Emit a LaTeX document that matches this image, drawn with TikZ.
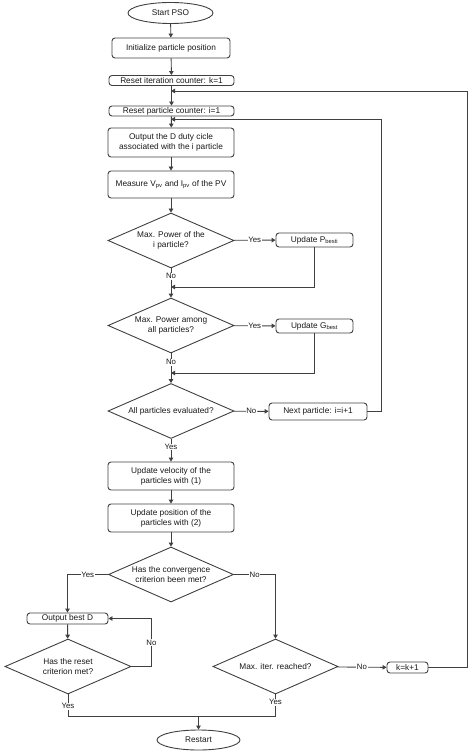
\documentclass[tikz,border=0pt]{standalone}
\usepackage{fontspec}
\setmainfont{Liberation Sans}
\usetikzlibrary{shapes.geometric,arrows.meta}
\begin{document}
\begin{tikzpicture}[x=1pt,y=-1pt,
  every node/.style={font=\fontsize{8.3}{10}\selectfont, text=black!90},
  box/.style={draw=black!75, line width=0.9pt, rounded corners=3pt, align=center, inner sep=1pt},
  term/.style={draw=black!75, line width=0.9pt, ellipse, inner sep=0pt},
  dec/.style={draw=black!75, line width=0.9pt, diamond, aspect=2.3, inner sep=-1.5pt, align=center, minimum width=126pt, minimum height=55pt},
  conn/.style={draw=black!75, line width=0.9pt, -{Triangle[length=4pt,width=4.5pt]}},
  plain/.style={draw=black!75, line width=0.9pt},
  lab/.style={fill=white, inner sep=0.6pt, font=\fontsize{7.8}{9}\selectfont}
]
\useasboundingbox (0,0) rectangle (474,754);

\node[term, minimum width=85pt, minimum height=21pt] (start) at (170.5,13) {Start PSO};
\node[box, minimum width=118pt, minimum height=20pt] (init) at (171,48) {Initialize particle position};
\node[box, minimum width=125pt, minimum height=10pt] (resk) at (171.5,80.5) {Reset iteration counter: k=1};
\node[box, minimum width=125pt, minimum height=10pt] (resi) at (171.5,111) {Reset particle counter: i=1};
\node[box, minimum width=126pt, minimum height=29pt] (outd) at (171,142.5) {Output the D duty cicle\\associated with the i particle};
\node[box, minimum width=126pt, minimum height=27pt] (meas) at (171,184.5) {Measure V\textsubscript{pv} and I\textsubscript{pv} of the PV};
\node[dec] (d1) at (171,240.5) {Max. Power of the\\i particle?};
\node[box, minimum width=77pt, minimum height=14pt] (pb) at (314.5,240) {Update P\textsubscript{besti}};
\node[dec] (d2) at (171,325.5) {Max. Power among\\all particles?};
\node[box, minimum width=77pt, minimum height=14pt] (gb) at (314.5,326) {Update G\textsubscript{best}};
\node[dec] (d3) at (171,411) {All particles evaluated?};
\node[box, minimum width=98pt, minimum height=17pt] (np) at (318,411.5) {Next particle: i=i+1};
\node[box, minimum width=126pt, minimum height=28pt] (uv) at (171,476) {Update velocity of the\\particles with (1)};
\node[box, minimum width=126pt, minimum height=28pt] (up) at (171,518) {Update position of the\\particles with (2)};
\node[dec, minimum width=125pt] (d4) at (171,574.5) {Has the convergence\\criterion been met?};
\node[box, minimum width=81pt, minimum height=11pt] (obd) at (67.5,618.5) {Output best D};
\node[dec] (d5) at (68,666.5) {Has the reset\\criterion met?};
\node[dec, minimum width=125pt] (d6) at (275.5,666.5) {Max. iter. reached?};
\node[box, minimum width=41pt, minimum height=11pt] (kk) at (407.5,667.5) {k=k+1};
\node[term, minimum width=83pt, minimum height=20pt] (rs) at (198.5,740) {Restart};

\coordinate (m1) at (171,287);
\coordinate (m2) at (171,373);
\coordinate (m3) at (171,119.3);
\coordinate (m4) at (171,91);
\coordinate (ri) at (381,411.5);
\coordinate (rk) at (467,667.5);
\coordinate (bl) at (68,716);
\coordinate (br) at (275.5,716);

\draw[conn] (start) -- (init);
\draw[conn] (init) -- (resk);
\draw[conn] (resk) -- (resi);
\draw[conn] (resi) -- (outd);
\draw[conn] (outd) -- (meas);
\draw[conn] (meas) -- (d1);
\draw[conn] (d1) -- node[lab]{Yes} (pb);
\draw[conn] (d1.south) -- node[lab, pos=0.27]{No} (d2.north);
\draw[conn] (pb.south) |- (m1);
\draw[conn] (d2) -- node[lab]{Yes} (gb);
\draw[conn] (d2.south) -- node[lab, pos=0.3]{No} (d3.north);
\draw[conn] (gb.south) |- (m2);
\draw[conn] (d3) -- node[lab]{No} (np);
\draw[conn] (np.east) -- (ri) |- (m3);
\draw[conn] (d3.south) -- node[lab, pos=0.35]{Yes} (uv.north);
\draw[conn] (uv) -- (up);
\draw[conn] (up) -- (d4);
\draw[conn] (d4.west) -| node[lab, pos=0.25]{Yes} (obd.north);
\draw[conn] (d4.east) -| node[lab, pos=0.25]{No} (d6.north);
\draw[conn] (obd) -- (d5);
\draw[conn] (d5.east) -- ++(20,0) |- node[lab, pos=0.25]{No} (obd.east);
\draw[conn] (d6) -- node[lab]{No} (kk);
\draw[conn] (kk.east) -- (rk) |- (m4);
\draw[conn] (d5.south) -- node[lab, pos=0.55]{Yes} (bl) -| (rs.north);
\draw[plain] (d6.south) -- node[lab, pos=0.36]{Yes} (br) -- (rs.north |- br);
\end{tikzpicture}
\end{document}
